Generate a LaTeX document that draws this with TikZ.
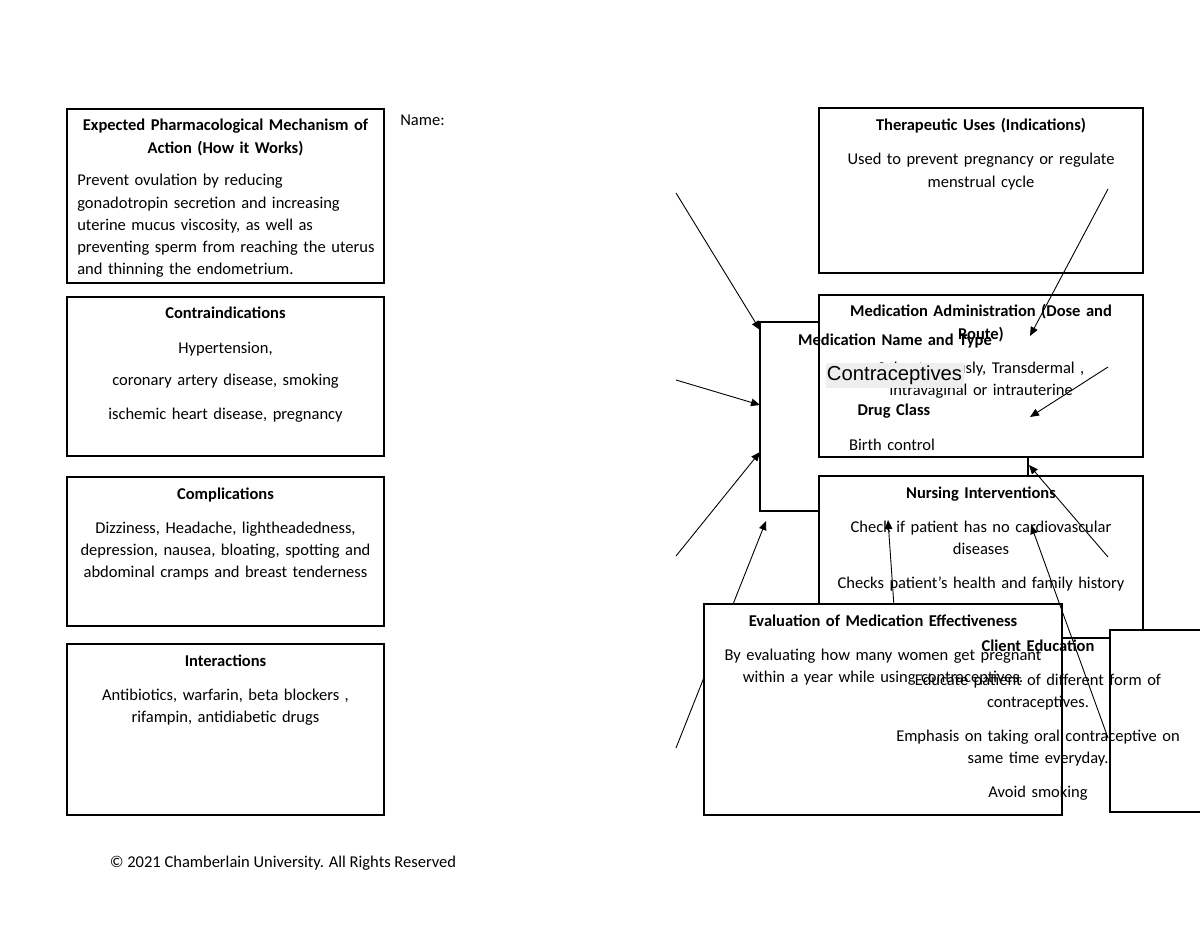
\documentclass[tikz,border=0pt]{standalone}
\usepackage{fontspec}
\setmainfont{Carlito}
\newfontfamily\arialf{Liberation Sans}
\usetikzlibrary{arrows.meta,fit}
\definecolor{hilite}{HTML}{EEEEEE}
\begin{document}
\begin{tikzpicture}[x=0.6667pt,y=-0.6667pt,
  box/.style={draw=black,line width=1.3pt,fill=white,inner sep=0pt,outer sep=0pt},
  txt/.style={font=\fontsize{11}{14.67}\selectfont,inner sep=0pt,align=center,text width=228pt,anchor=base},
  ltxt/.style={font=\fontsize{11}{14.67}\selectfont,inner sep=0pt,align=left,text width=210pt,anchor=base west},
  conn/.style={line width=0.6pt,-{Triangle[length=6pt,width=5pt]}},
  ]
\useasboundingbox (0,0) rectangle (1200,927);

% ---------- left column ----------
\node[box,fit={(67,109) (384,283)}] (mech) {};
\node[ltxt,text width=215pt,align=center,anchor=base] (mecht) at (225.5,131) {\bfseries Expected Pharmacological Mechanism of\\\bfseries Action (How it Works)};
\node[ltxt] (mechb) at (77,186) {Prevent ovulation by reducing\\gonadotropin secretion and increasing\\uterine mucus viscosity, as well as\\preventing sperm from reaching the uterus\\and thinning the endometrium.};

\node[box,fit={(67,297) (384,456)}] (contra) {};
\node[txt] (contrat) at (225.5,319) {\textbf{Contraindications}\\[8pt]Hypertension,\\[7pt]coronary artery disease, smoking\\[8pt]ischemic heart disease, pregnancy};

\node[box,fit={(67,477) (384,626)}] (comp) {};
\node[txt] (compt) at (225.5,499) {\textbf{Complications}\\[8pt]Dizziness, Headache, lightheadedness,\\depression, nausea, bloating, spotting and\\abdominal cramps and breast tenderness};

\node[box,fit={(67,644) (384,815)}] (inter) {};
\node[txt] (intert) at (225.5,666) {\textbf{Interactions}\\[8pt]Antibiotics, warfarin, beta blockers ,\\rifampin, antidiabetic drugs};

\node[font=\fontsize{11}{14.67}\selectfont,inner sep=0pt,anchor=base west] (name) at (400,126) {Name:};
\node[font=\fontsize{11}{14.67}\selectfont,inner sep=0pt,anchor=base] (footer) at (283,867) {© 2021 Chamberlain University. All Rights Reserved};

% ---------- connectors into the medication box ----------
\coordinate (s1) at (676,193); \coordinate (e1) at (760,330);
\coordinate (s2) at (676,380); \coordinate (e2) at (760,405);
\coordinate (s3) at (676,556); \coordinate (e3) at (760,452);
\coordinate (s4) at (676,748); \coordinate (e4) at (766,521);
\draw[conn] (s1) -- (e1);
\draw[conn] (s2) -- (e2);
\draw[conn] (s3) -- (e3);
\draw[conn] (s4) -- (e4);

% ---------- right side ----------
\node[box,fit={(760,322) (1028,511)}] (med) {};
\node[box,fit={(819,108) (1143,273)}] (ther) {};
\node[box,fit={(819,295) (1143,457)}] (admin) {};
\node[box,fit={(819,476) (1143,638)}] (nurse) {};

\node[txt] (thert) at (981,131) {\textbf{Therapeutic Uses (Indications)}\\[8pt]Used to prevent pregnancy or regulate\\menstrual cycle};

\node[txt] (admint) at (981,317) {\textbf{Medication Administration (Dose and}\\\textbf{Route)}\\[8pt]Subcutaneously, Transdermal ,\\Intravaginal or intrauterine};

\node[txt] (medt) at (895,345) {\textbf{Medication Name and Type}};
\node[fill=hilite,inner sep=0pt,minimum width=92pt,minimum height=17pt,font=\arialf\fontsize{13.5}{15}\selectfont] (contr) at (894.5,375.5) {Contraceptives};
\node[txt] (drug) at (894,415) {\textbf{Drug Class}};
\node[txt] (birth) at (892,450) {Birth control};

\node[txt] (nurset) at (981,498) {\textbf{Nursing Interventions}\\[8pt]Check if patient has no cardiovascular\\diseases\\[8pt]Checks patient’s health and family history};

\coordinate (s7) at (1108,557); \coordinate (e7) at (1029,465);
\draw[conn] (s7) -- (e7);
\coordinate (s8) at (897,650); \coordinate (e8) at (888,520);
\draw[conn] (s8) -- (e8);

\node[box,fit={(704,604) (1062,815)}] (eval) {};
\node[txt] (evalt) at (883,626) {\textbf{Evaluation of Medication Effectiveness}\\[8pt]By evaluating how many women get pregnant\\within a year while using contraceptives.};

\node[box,fit={(1110,630) (1240,812)}] (rbox) {};

\node[txt] (client) at (1038,651) {\textbf{Client Education}\\[8pt]Educate patient of different form of\\contraceptives.\\[8pt]Emphasis on taking oral contraceptive on\\same time everyday.\\[8pt]Avoid smoking};

\coordinate (s9) at (1108,738); \coordinate (e9) at (1031,525);
\draw[conn] (s9) -- (e9);
\coordinate (s5) at (1108,189); \coordinate (e5) at (1030,336);
\draw[conn] (s5) -- (e5);
\coordinate (s6) at (1108,367); \coordinate (e6) at (1030,417);
\draw[conn] (s6) -- (e6);
\end{tikzpicture}
\end{document}
